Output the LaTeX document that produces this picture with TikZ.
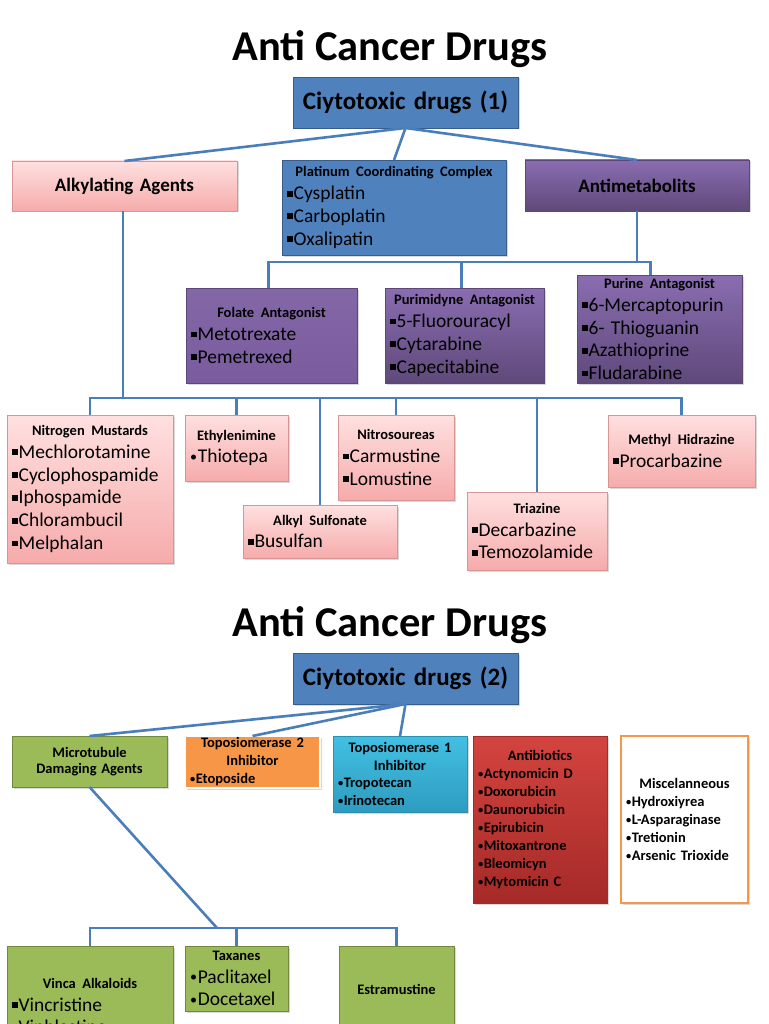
\documentclass[tikz,border=0pt]{standalone}
\usepackage{fontspec}
\setmainfont{Carlito}
\usetikzlibrary{shadows}
\definecolor{lineblue}{HTML}{4A7EBB}
\definecolor{blueF}{HTML}{4F81BD}
\definecolor{blueD}{HTML}{385D8A}
\definecolor{pinkT}{HTML}{FFE0E0}
\definecolor{pinkBo}{HTML}{F6ABAB}
\definecolor{pinkB}{HTML}{D99594}
\definecolor{purT}{HTML}{8A6DB1}
\definecolor{purBo}{HTML}{5F497A}
\definecolor{purB}{HTML}{5C4776}
\definecolor{folT}{HTML}{8467A7}
\definecolor{folBo}{HTML}{7A5C9E}
\definecolor{greenF}{HTML}{9BBB59}
\definecolor{greenD}{HTML}{71893F}
\definecolor{orangeF}{HTML}{F79646}
\definecolor{cyanT}{HTML}{42C0E3}
\definecolor{cyanBo}{HTML}{2E9CC0}
\definecolor{cyanD}{HTML}{2B8FAF}
\definecolor{redT}{HTML}{D3443F}
\definecolor{redBo}{HTML}{A52A28}
\newcommand{\sq}{\rule[0.16em]{0.3em}{0.3em}\kern0.04em}
\newcommand{\bul}{\raisebox{0.08em}{\scalebox{0.72}{\textbullet}}\kern0.04em}
\newcommand{\ttl}[1]{\makebox[\linewidth][c]{\fontsize{14.5}{17}\selectfont\bfseries #1}\par}
\newcommand{\sqi}[1]{\mbox{\sq #1}\par}
\newcommand{\dti}[1]{\mbox{\bul#1}\par}
\tikzset{
  box/.style={rectangle, anchor=north west, inner xsep=5pt, inner ysep=0pt, outer sep=0pt,
    line width=0.8pt,
    drop shadow={shadow xshift=1.5pt, shadow yshift=-1.5pt, opacity=0.3},
    font=\fontsize{19.5}{22.8}\selectfont},
  wh/.style 2 args={minimum width=#1pt, minimum height=#2pt,
    /utils/exec={\pgfmathsetmacro\tw{#1-10}}, text width=\tw pt},
  bluebox/.style={box, draw=blueD, fill=blueF},
  pinkbox/.style={box, draw=pinkB, shade, top color=pinkT, bottom color=pinkBo},
  purbox/.style={box, draw=purB, shade, top color=purT, bottom color=purBo},
  folbox/.style={box, draw=purB, shade, top color=folT, bottom color=folBo},
  greenbox/.style={box, draw=greenD, fill=greenF},
  orangebox/.style={box, draw=white, line width=1.6pt, fill=orangeF},
  cyanbox/.style={box, draw=cyanD, shade, top color=cyanT, bottom color=cyanBo},
  redbox/.style={box, draw=redBo, shade, top color=redT, bottom color=redBo},
  miscbox/.style={box, draw=orangeF, line width=1.6pt, fill=white, drop shadow={opacity=0}},
  small/.style={font=\fontsize{14.5}{18}\selectfont\bfseries},
  conn/.style={draw=lineblue, line width=2.6pt},
  maintitle/.style={anchor=base, font=\fontsize{42.5}{50}\selectfont\bfseries},
  cytofont/.style={font=\fontsize{25}{30}\selectfont\bfseries},
}
\begin{document}
\begin{tikzpicture}[x=1pt,y=-1pt]
\fill[white] (0,0) rectangle (768,1024);
\useasboundingbox (0,0) rectangle (768,1024);

% ---------- Section 1 ----------
\node[maintitle] (t1) at (390,61) {Anti Cancer Drugs};
\node[bluebox, wh={225}{51}, cytofont] (cyto1) at (293,77) {\centering Ciytotoxic drugs (1)\par};

\node[pinkbox, wh={225}{50}] (alk) at (12,161) {\centering\fontsize{19}{23}\selectfont\bfseries Alkylating Agents\par};
\node[bluebox, wh={224}{95}] (plat) at (282,160) {\ttl{Platinum Coordinating Complex}\sqi{Cysplatin}\sqi{Carboplatin}\sqi{Oxalipatin}};
\node[purbox, wh={224}{51}] (anti) at (525,160) {\centering\fontsize{19}{23}\selectfont\bfseries Antimetabolits\par};

\node[folbox, wh={171}{95}] (folate) at (186,288) {\ttl{Folate Antagonist}\sqi{Metotrexate}\sqi{Pemetrexed}};
\node[purbox, wh={159}{95}] (purim) at (385,288) {\ttl{Purimidyne Antagonist}\sqi{5-Fluorouracyl}\sqi{Cytarabine}\sqi{Capecitabine}};
\node[purbox, wh={165}{108}] (purine) at (577,275) {\ttl{Purine Antagonist}\sqi{6-Mercaptopurin}\sqi{6- Thioguanin}\sqi{Azathioprine}\sqi{Fludarabine}};

\node[pinkbox, wh={166}{148}] (nitro) at (7,415) {\ttl{Nitrogen Mustards}\sqi{Mechlorotamine}\sqi{Cyclophospamide}\sqi{Iphospamide}\sqi{Chlorambucil}\sqi{Melphalan}};
\node[pinkbox, wh={103}{66}] (ethyl) at (185,415) {\ttl{Ethylenimine}\dti{Thiotepa}};
\node[pinkbox, wh={154}{53}] (alkyl) at (243,505) {\ttl{Alkyl Sulfonate}\sqi{Busulfan}};
\node[pinkbox, wh={116}{85}] (nitros) at (338,415) {\ttl{Nitrosoureas}\sqi{Carmustine}\sqi{Lomustine}};
\node[pinkbox, wh={140}{78}] (triaz) at (467,492) {\ttl{Triazine}\sqi{Decarbazine}\sqi{Temozolamide}};
\node[pinkbox, wh={147}{72}] (methyl) at (608,415) {\ttl{Methyl Hidrazine}\sqi{Procarbazine}};

\draw[conn] (cyto1.south) -- (alk.north);
\draw[conn] (cyto1.south) -- (plat.north);
\draw[conn] (cyto1.south) -- (anti.north);

\coordinate (mj) at (637,262);
\draw[conn] (anti.south) -- (mj);
\draw[conn] (mj) -| ([xshift=-3pt]folate.north);
\draw[conn] (mj) -| ([xshift=-3pt]purim.north);
\draw[conn] (mj) -| ([xshift=-9pt]purine.north);

\coordinate (aj) at (123,398);
\draw[conn] ([xshift=-1.5pt]alk.south) -- (aj);
\draw[conn] (aj) -| (nitro.north);
\draw[conn] (aj) -| (ethyl.north);
\draw[conn] (aj) -| (alkyl.north);
\draw[conn] (aj) -| (nitros.north);
\draw[conn] (aj) -| (triaz.north);
\draw[conn] (aj) -| (methyl.north);

% ---------- Section 2 ----------
\node[maintitle] (t2) at (390,636) {Anti Cancer Drugs};
\node[bluebox, wh={225}{51}, cytofont] (cyto2) at (293,653) {\centering Ciytotoxic drugs (2)\par};

\node[greenbox, wh={155}{51}, font=\fontsize{14.5}{16.5}\selectfont\bfseries] (micro) at (12,736) {\centering Microtubule\\ Damaging Agents\par};
\node[orangebox, wh={135}{52}, small, inner xsep=3pt] (topo2) at (185,736) {{\centering Toposiomerase 2\\ Inhibitor\par}\bul Etoposide\par};
\node[cyanbox, wh={134}{76}, small, font=\fontsize{14.5}{17.5}\selectfont\bfseries] (topo1) at (333,736) {{\centering Toposiomerase 1\\ Inhibitor\par}\bul Tropotecan\par\bul Irinotecan\par};
\node[redbox, wh={134}{167}, small] (antib) at (473,736) {{\centering Antibiotics\par}\bul Actynomicin D\par\bul Doxorubicin\par\bul Daunorubicin\par\bul Epirubicin\par\bul Mitoxantrone\par\bul Bleomicyn\par\bul Mytomicin C\par};
\node[miscbox, wh={127}{167}, small] (misc) at (621,736) {{\centering Miscelanneous\par}\bul Hydroxiyrea\par\bul L-Asparaginase\par\bul Tretionin\par\bul Arsenic Trioxide\par};

\node[greenbox, wh={166}{120}] (vinca) at (7,946) {\ttl{Vinca Alkaloids}\sqi{Vincristine}\sqi{Vinblastine}};
\node[greenbox, wh={103}{65}] (taxan) at (185,946) {\ttl{Taxanes}\dti{Paclitaxel}\dti{Docetaxel}};
\node[greenbox, wh={115}{86}] (estra) at (339,946) {\centering\fontsize{14.5}{17}\selectfont\bfseries Estramustine\par};

\draw[conn] (cyto2.south) -- (micro.north);
\draw[conn] (cyto2.south) -- (topo2.north);
\draw[conn] (cyto2.south) -- (topo1.north);

\coordinate (tj) at (217,928);
\draw[conn] (micro.south) -- (tj);
\draw[conn] (tj) -| (vinca.north);
\draw[conn] (tj) -| (taxan.north);
\draw[conn] (tj) -| (estra.north);
\end{tikzpicture}
\end{document}
